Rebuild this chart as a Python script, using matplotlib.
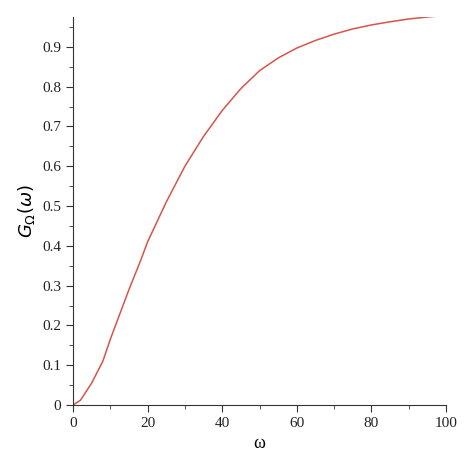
import matplotlib
matplotlib.use("Agg")
import matplotlib.pyplot as plt
import numpy as np
from matplotlib.ticker import MultipleLocator

omega = [0, 2, 5, 8, 10, 12, 15, 18, 20, 25, 30, 35, 40, 45, 50, 55, 60, 65, 70, 75, 80, 85, 90, 95, 100]
G = [0, 0.012, 0.055, 0.11, 0.165, 0.215, 0.29, 0.36, 0.41, 0.51, 0.60, 0.675, 0.74, 0.795, 0.84, 0.872, 0.897, 0.916, 0.932, 0.945, 0.955, 0.963, 0.970, 0.975, 0.979]

plt.rcParams['font.family'] = ['Liberation Serif', 'DejaVu Serif']
fig = plt.figure(figsize=(4.74, 4.70), dpi=100)
ax = fig.add_axes([73/474, 65/470, 373/474, 388/470])
ax.plot(omega, G, color='#d9534a', lw=1.1)
ax.set_xlim(0, 100)
ax.set_ylim(0, 0.975)
ax.xaxis.set_major_locator(MultipleLocator(20))
ax.xaxis.set_minor_locator(MultipleLocator(10))
ax.yaxis.set_major_locator(MultipleLocator(0.1))
ax.yaxis.set_minor_locator(MultipleLocator(0.05))
ax.set_yticks(np.arange(0, 0.95, 0.1))
ax.set_yticklabels(['0'] + [f'{v:.1f}' for v in np.arange(0.1, 0.95, 0.1)])
for s in ['top', 'right']:
    ax.spines[s].set_visible(False)
for s in ['left', 'bottom']:
    ax.spines[s].set_color('#333333')
ax.tick_params(which='both', direction='out', colors='#333333', labelsize=11, labelcolor='#222222')
ax.tick_params(which='major', length=5)
ax.tick_params(which='minor', length=3)
ax.set_xlabel('ω', fontsize=13)
ax.set_ylabel(r'$G_{\Omega}(\omega)$', fontsize=13)
fig.savefig('out.png', dpi=100)
